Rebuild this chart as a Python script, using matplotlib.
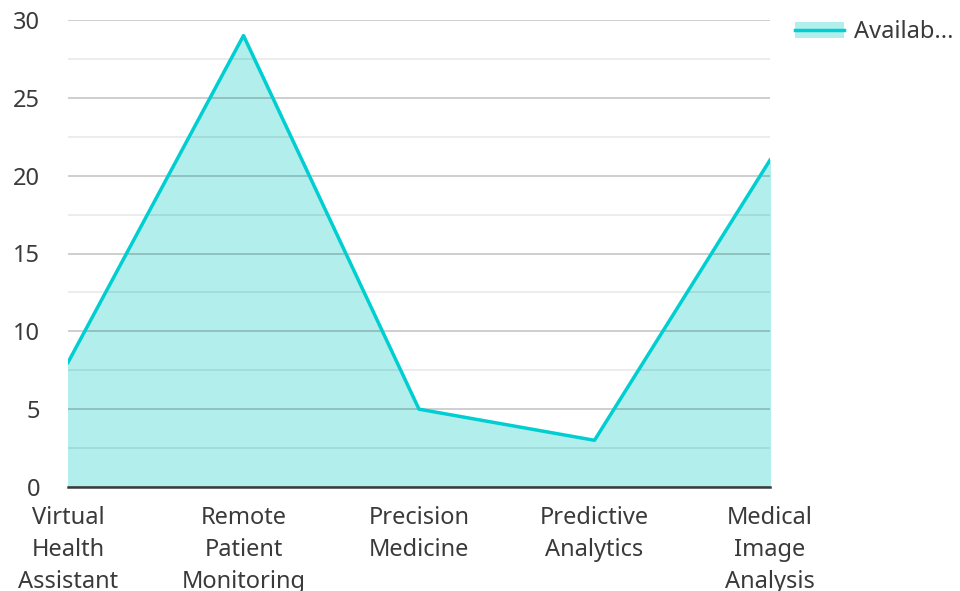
import matplotlib.pyplot as plt
from matplotlib.lines import Line2D
from matplotlib.patches import Patch
from matplotlib.ticker import MultipleLocator

plt.rcParams['font.family'] = ['Noto Sans', 'DejaVu Sans']

categories = ['Virtual\nHealth\nAssistant', 'Remote\nPatient\nMonitoring', 'Precision\nMedicine',
              'Predictive\nAnalytics', 'Medical\nImage\nAnalysis']
values = [8, 29, 5, 3, 21]
series_name = 'Availab...'

line_color = '#00CED1'
fill_color = '#B2EEEC'
text_color = '#3a3a3a'

fig = plt.figure(figsize=(9.6, 5.91), dpi=100)
ax = fig.add_axes([68 / 960, 1 - 487 / 591, (770 - 68) / 960, (487 - 20) / 591])

x = range(len(categories))
ax.fill_between(x, values, 0, color=fill_color, zorder=1)
ax.plot(x, values, color=line_color, linewidth=2.5, zorder=3)

ax.set_xlim(0, len(categories) - 1)
ax.set_ylim(0, 30)
ax.yaxis.set_major_locator(MultipleLocator(5))
ax.yaxis.set_minor_locator(MultipleLocator(2.5))
ax.grid(axis='y', which='major', color='black', alpha=0.22, linewidth=1.2, zorder=2)
ax.grid(axis='y', which='minor', color='black', alpha=0.09, linewidth=1.2, zorder=2)
ax.set_axisbelow(False)

ax.set_xticks(list(x))
ax.set_xticklabels(categories, linespacing=1.43)
ax.tick_params(axis='both', which='both', length=0, labelsize=17, colors=text_color)
ax.tick_params(axis='x', pad=14)
ax.tick_params(axis='y', pad=20)

for side in ['top', 'right', 'left']:
    ax.spines[side].set_visible(False)
ax.spines['bottom'].set_color(text_color)
ax.spines['bottom'].set_linewidth(1.8)
ax.spines['bottom'].set_zorder(4)

handle = (Patch(facecolor=fill_color, edgecolor='none'),
          Line2D([], [], color=line_color, linewidth=2.5))
fig.legend([handle], [series_name], loc='upper left', bbox_to_anchor=(0.828, 0.966),
           frameon=False, fontsize=17, labelcolor=text_color, handlelength=2.1,
           handletextpad=0.4, borderpad=0, borderaxespad=0)

fig.savefig('out.png', dpi=100)
